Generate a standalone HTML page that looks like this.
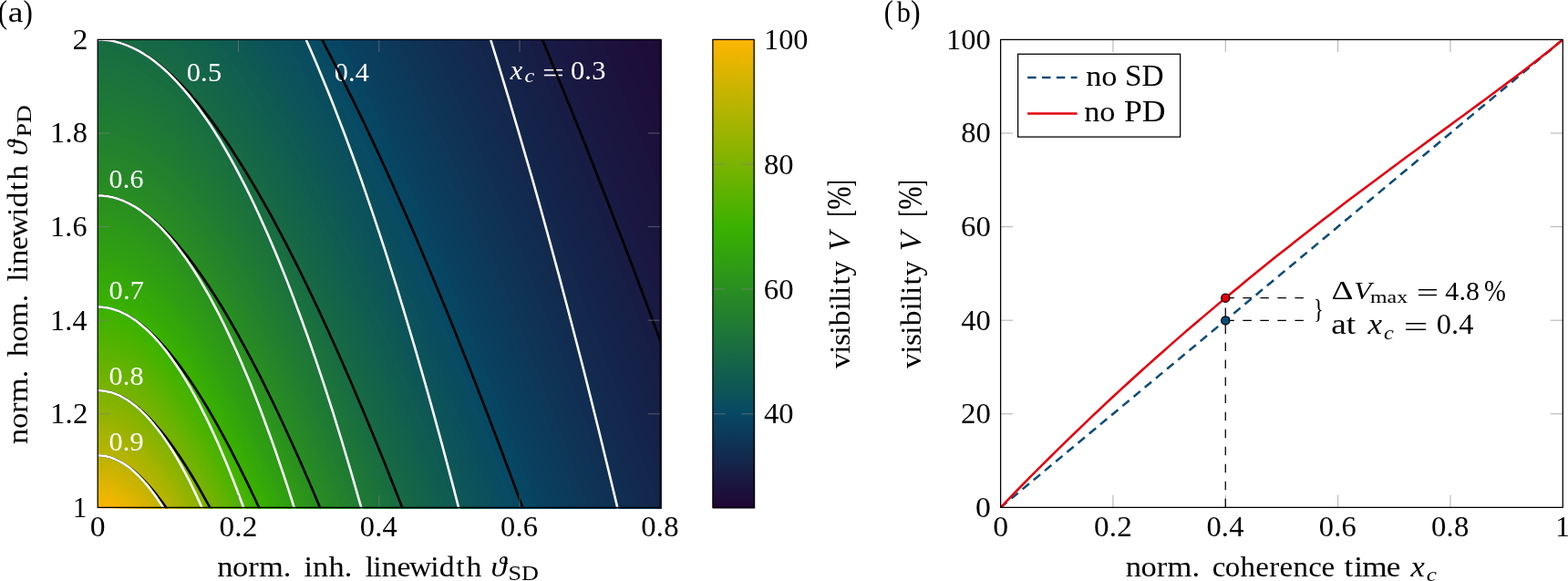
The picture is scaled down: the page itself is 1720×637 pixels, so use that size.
<!DOCTYPE html>
<html lang="en"><head><meta charset="utf-8"><title>Visibility vs. linewidth</title>
<style>html,body{margin:0;padding:0;background:#fff;overflow:hidden}svg{display:block}text{font-family:'Liberation Serif', 'DejaVu Serif', serif}</style></head><body>
<svg width="1720" height="637" viewBox="0 0 1720 637">
<rect width="1720" height="637" fill="#fff"/>
<defs><clipPath id="ca"><rect x="107.20" y="43.40" width="618.00" height="513.95"/></clipPath>
<linearGradient id="cb" gradientUnits="userSpaceOnUse" x1="0" y1="43.40" x2="0" y2="556.40"><stop offset="0.0000" stop-color="#fdb500"/><stop offset="0.4000" stop-color="#3ab200"/><stop offset="0.8000" stop-color="#074864"/><stop offset="1.0000" stop-color="#210534"/></linearGradient></defs>
<g clip-path="url(#ca)" shape-rendering="geometricPrecision">
<rect x="106.2" y="42.4" width="620.1" height="516.0" fill="#fdb500"/>
<path d="M727.3,562.4L132.5,561.5L126.1,558.1L119.7,555.7L113.3,554.3L107.2,553.8V40.4H727.3Z" fill="#f8b500"/>
<path d="M727.3,562.4L136.6,561.5L132.8,559.1L129.1,557L125.4,555.2L121.7,553.8L118,552.6L114.3,551.8L110.6,551.4L107.2,551.2V40.4H727.3Z" fill="#f5b500"/>
<path d="M727.3,562.4L140.3,561.5L136.1,558.5L131.8,555.8L127.6,553.6L123.5,551.8L119.3,550.4L115.2,549.4L111,548.8L107.2,548.6V40.4H727.3Z" fill="#f2b500"/>
<path d="M727.3,562.4L143.7,561.5L139,557.8L134.3,554.7L129.7,552L125.1,549.8L120.5,548.1L116,546.9L111.4,546.1L107.2,545.9V40.4H727.3Z" fill="#eeb500"/>
<path d="M727.3,562.4L146.9,561.5L141.8,557.2L136.7,553.5L131.7,550.3L126.7,547.7L121.7,545.7L116.7,544.3L111.8,543.5L107.2,543.2V40.4H727.3Z" fill="#ebb500"/>
<path d="M727.3,562.4L150,561.5L144.4,556.6L138.9,552.3L133.5,548.7L128.1,545.7L122.8,543.4L117.4,541.8L112.1,540.8L107.2,540.5V40.4H727.3Z" fill="#e8b500"/>
<path d="M727.3,562.4L152.9,561.5L146.9,555.9L141.1,551.1L135.3,547L129.5,543.6L123.8,541L118.1,539.2L112.5,538.1L107.2,537.8V40.4H727.3Z" fill="#e5b500"/>
<path d="M727.3,562.4L155.7,561.5L149.4,555.3L143.1,549.9L137,545.3L130.9,541.5L124.8,538.6L118.8,536.6L112.8,535.4L107.2,535V40.4H727.3Z" fill="#e1b500"/>
<path d="M727.3,562.4L158.4,561.5L151.7,554.6L145.1,548.6L138.6,543.6L132.1,539.4L125.8,536.2L119.4,534L113.1,532.6L107.2,532.2V40.4H727.3Z" fill="#deb500"/>
<path d="M727.3,562.4L161.1,561.5L154,553.9L147.1,547.4L140.2,541.8L133.4,537.3L126.7,533.8L120,531.3L116.5,530.4L113.4,529.8L107.2,529.4V40.4H727.3Z" fill="#dbb400"/>
<path d="M727.3,562.4L163.7,561.5L156.3,553.3L149,546.1L141.8,540.1L134.6,535.1L127.6,531.3L123.9,529.7L120.6,528.6L116.9,527.6L113.7,527L110.4,526.7L107.2,526.5V40.4H727.3Z" fill="#d8b400"/>
<path d="M727.3,562.4L166.2,561.5L158.5,552.6L150.8,544.8L143.3,538.3L135.8,533L131.9,530.6L128.5,528.8L124.6,527.1L121.2,525.9L117.3,524.8L113.9,524.2L110.6,523.8L107.2,523.7V40.4H727.3Z" fill="#d4b400"/>
<path d="M727.3,562.4L168.8,561.5L160.6,551.9L152.6,543.6L144.8,536.5L140.6,533.3L137,530.8L132.9,528.2L129.4,526.3L125.3,524.5L121.8,523.2L117.7,522L114.2,521.3L110.7,520.9L107.2,520.7V40.4H727.3Z" fill="#d1b400"/>
<path d="M727.3,562.4L171.2,561.5L162.8,551.2L154.4,542.3L146.2,534.7L141.9,531.2L138.2,528.5L133.9,525.8L130.2,523.8L126,521.8L122.3,520.4L118.1,519.1L114.5,518.4L110.8,517.9L107.2,517.8V40.4H727.3Z" fill="#ceb400"/>
<path d="M727.3,562.4L173.7,561.5L164.9,550.5L156.2,540.9L151.7,536.5L147.7,532.9L143.2,529.2L139.3,526.3L134.9,523.4L131.1,521.2L126.7,519.1L122.9,517.6L118.5,516.3L114.8,515.5L111,515L107.2,514.8V40.4H727.3Z" fill="#cbb400"/>
<path d="M727.3,562.4L176.1,561.5L166.9,549.8L158,539.6L153.2,534.8L149.1,531L144.5,527.1L140.4,524L135.9,520.9L131.9,518.6L127.4,516.3L123.4,514.7L118.9,513.3L115,512.5L111.1,512L107.2,511.8V40.4H727.3Z" fill="#c7b400"/>
<path d="M727.3,562.4L178.5,561.5L169,549.1L159.7,538.3L154.8,533.2L150.6,529.2L145.7,525L141.6,521.7L136.8,518.4L132.7,516L128,513.6L124,511.9L119.3,510.4L115.3,509.5L111.2,508.9L107.2,508.7V40.4H727.3Z" fill="#c4b400"/>
<path d="M727.3,562.4L180.9,561.5L171.1,548.3L165.9,542L161.4,536.9L156.3,531.5L152,527.3L147,522.8L142.7,519.4L137.8,515.9L133.5,513.3L128.7,510.8L124.5,509L119.7,507.4L115.5,506.4L111.4,505.9L107.2,505.7V40.4H727.3Z" fill="#c1b400"/>
<path d="M727.3,562.4L183.3,561.5L173.1,547.6L167.7,540.9L163.1,535.5L157.9,529.9L153.4,525.4L148.2,520.7L143.8,517L138.7,513.4L134.3,510.6L129.3,507.9L125,506.1L120.1,504.4L115.8,503.4L111.5,502.8L107.2,502.5V40.4H727.3Z" fill="#beb400"/>
<path d="M727.3,562.4L185.6,561.5L175.1,546.9L169.6,539.8L164.8,534.2L159.4,528.2L154.7,523.4L149.4,518.5L144.9,514.7L139.6,510.8L135.1,507.9L130,505.1L125.5,503.1L120.5,501.3L116,500.3L111.6,499.6L107.2,499.4V40.4H727.3Z" fill="#bab400"/>
<path d="M727.3,562.4L188,561.5L182.1,553L177.1,546.1L171.4,538.7L166.5,532.7L160.9,526.5L156.1,521.5L150.7,516.3L145.9,512.3L140.6,508.2L135.9,505.1L130.6,502.2L126.1,500.1L120.8,498.2L116.3,497.1L111.7,496.4L107.2,496.2V40.4H727.3Z" fill="#b7b400"/>
<path d="M727.3,562.4L190.3,561.5L184.3,552.6L179.1,545.3L173.3,537.6L168.2,531.3L162.5,524.7L157.5,519.5L151.9,514.1L147,509.8L141.5,505.6L136.7,502.4L131.3,499.3L126.6,497.1L121.2,495.1L116.5,493.9L111.9,493.2L107.2,493V40.4H727.3Z" fill="#b4b400"/>
<path d="M727.3,562.4L192.6,561.5L186.5,552.2L181.1,544.6L175.1,536.5L169.9,529.9L164,523L158.9,517.5L153.1,511.8L148.1,507.4L142.4,502.9L137.5,499.6L131.9,496.3L127.1,494L121.6,492L116.8,490.7L112,490L107.2,489.7V40.4H727.3Z" fill="#b1b400"/>
<path d="M727.3,562.4L195,561.5L188.6,551.8L183.1,543.8L176.9,535.3L171.5,528.4L165.5,521.2L160.2,515.5L154.3,509.5L149.1,504.9L143.3,500.2L138.3,496.7L132.6,493.3L127.6,490.9L121.9,488.8L117,487.5L112.1,486.7L107.2,486.4V40.4H727.3Z" fill="#adb400"/>
<path d="M727.3,562.4L197.3,561.5L190.8,551.3L185.1,543L178.7,534.1L173.2,527L167,519.4L161.6,513.4L155.5,507.2L150.2,502.4L144.2,497.5L139.1,493.8L133.2,490.3L128.1,487.8L122.3,485.6L117.3,484.2L112.2,483.4L107.2,483.1V40.4H727.3Z" fill="#aab400"/>
<path d="M727.3,562.4L199.6,561.5L192.9,550.9L187.1,542.2L180.5,533L174.9,525.5L168.5,517.6L162.9,511.4L156.7,504.9L151.3,499.8L145.2,494.8L139.9,490.9L133.8,487.2L128.6,484.6L122.7,482.3L117.5,480.9L112.3,480L107.2,479.7V40.4H727.3Z" fill="#a7b400"/>
<path d="M727.3,562.4L202,561.5L195.1,550.5L189.1,541.4L182.4,531.8L176.5,524L170,515.8L164.3,509.3L157.9,502.5L152.3,497.3L146.1,492L140.6,488L134.5,484.1L129.1,481.4L123,479L117.7,477.5L112.5,476.6L107.2,476.3V40.4H727.3Z" fill="#a4b400"/>
<path d="M727.3,562.4L204.3,561.5L197.2,550L191.1,540.6L184.2,530.6L178.2,522.5L171.5,514L165.7,507.2L159.1,500.2L153.4,494.7L147,489.2L141.4,485L135.1,481L129.6,478.2L123.4,475.6L118,474.1L112.6,473.2L107.2,472.9V40.4H727.3Z" fill="#a0b400"/>
<path d="M727.3,562.4L206.6,561.5L199.4,549.6L193.1,539.8L186,529.4L179.9,520.9L173,512.1L167,505L160.3,497.7L154.5,492L147.9,486.3L142.2,482L135.7,477.8L130.1,474.9L123.8,472.3L118.2,470.7L112.7,469.7L107.2,469.4V40.4H727.3Z" fill="#9db400"/>
<path d="M727.3,562.4L209,561.5L201.5,549.1L195.1,538.9L187.8,528.1L181.5,519.4L174.5,510.2L168.4,502.9L161.5,495.3L155.5,489.4L148.8,483.4L143,478.9L136.4,474.6L130.6,471.6L124.1,468.8L118.5,467.2L112.8,466.2L107.2,465.9V40.4H727.3Z" fill="#9ab300"/>
<path d="M727.3,562.4L211.3,561.5L203.7,548.6L197.1,538.1L189.6,526.9L183.2,517.8L176,508.3L169.7,500.7L162.7,492.8L156.6,486.7L149.7,480.5L143.7,475.9L137,471.4L131.1,468.2L124.5,465.4L118.7,463.7L113,462.6L107.2,462.3V40.4H727.3Z" fill="#97b300"/>
<path d="M727.3,562.4L213.7,561.5L205.8,548.2L199.1,537.2L191.5,525.6L184.9,516.2L177.5,506.3L171.1,498.5L163.9,490.3L157.7,484L150.6,477.6L144.5,472.7L137.6,468.1L131.7,464.8L124.9,461.9L119,460.1L113.1,459L107.2,458.7V40.4H727.3Z" fill="#93b300"/>
<path d="M727.3,562.4L216,561.5L208,547.7L201.1,536.4L193.3,524.3L186.6,514.6L179,504.4L172.5,496.2L165.1,487.8L158.7,481.2L151.5,474.6L145.3,469.6L138.3,464.8L132.2,461.4L125.2,458.3L119.2,456.5L113.2,455.4L107.2,455V40.4H727.3Z" fill="#90b300"/>
<path d="M727.3,562.4L218.4,561.5L210.2,547.2L203.1,535.5L195.2,523L188.3,513L180.5,502.4L173.8,493.9L166.3,485.2L159.8,478.4L152.5,471.6L146.1,466.4L138.9,461.4L132.7,457.9L125.6,454.8L119.5,452.9L113.3,451.7L107.2,451.3V40.4H727.3Z" fill="#8db300"/>
<path d="M727.3,562.4L220.8,561.5L212.4,546.7L205.2,534.6L197,521.7L190,511.3L182.1,500.4L175.2,491.6L167.5,482.6L160.9,475.6L153.4,468.5L146.9,463.2L139.5,458L133.2,454.3L126,451.1L119.7,449.2L113.4,448L107.2,447.6V40.4H727.3Z" fill="#8ab300"/>
<path d="M727.3,562.4L223.2,561.5L214.6,546.2L207.2,533.7L198.9,520.4L191.7,509.6L183.6,498.3L176.6,489.3L168.7,480L162,472.7L154.3,465.4L147.7,459.9L140.2,454.6L133.7,450.8L126.3,447.5L119.9,445.4L113.6,444.2L107.2,443.8V40.4H727.3Z" fill="#86b300"/>
<path d="M727.3,562.4L225.6,561.5L216.8,545.7L209.3,532.8L200.7,519.1L193.4,508L185.1,496.3L178,487L170,477.4L163,469.8L155.2,462.3L148.5,456.6L140.8,451.1L134.2,447.2L130.5,445.3L126.7,443.7L120.2,441.6L113.7,440.4L107.2,440V40.4H727.3Z" fill="#83b300"/>
<path d="M727.3,562.4L228,561.5L219.1,545.2L211.3,531.9L202.6,517.7L195.1,506.2L186.7,494.2L179.4,484.6L171.2,474.7L164.1,466.9L156.2,459.1L149.3,453.2L141.5,447.5L134.7,443.5L130.9,441.6L127.1,440L120.4,437.8L113.8,436.5L107.2,436.1V40.4H727.3Z" fill="#80b300"/>
<path d="M727.3,562.4L230.5,561.5L221.3,544.7L213.4,531L204.5,516.3L196.8,504.5L188.2,492.1L180.8,482.2L172.4,471.9L165.2,463.9L157.1,455.9L150.1,449.8L142.1,444L135.2,439.8L131.3,437.8L127.5,436.2L120.7,433.9L113.9,432.6L107.2,432.1V40.4H727.3Z" fill="#7db300"/>
<path d="M727.3,562.4L232.9,561.5L223.5,544.2L215.5,530L206.4,515L198.6,502.8L189.8,489.9L182.2,479.7L173.7,469.2L166.3,460.9L158,452.6L150.9,446.4L142.8,440.4L135.8,436.1L131.8,434L127.8,432.3L120.9,430L114.1,428.6L107.2,428.1V40.4H727.3Z" fill="#79b300"/>
<path d="M727.3,562.4L235.4,561.5L225.8,543.7L217.6,529.1L208.3,513.5L200.3,501L191.4,487.8L183.6,477.3L174.9,466.4L167.4,457.9L159,449.4L151.7,442.9L143.4,436.7L136.3,432.3L132.2,430.2L128.2,428.4L121.2,426L114.2,424.6L107.2,424.1V40.4H727.3Z" fill="#76b300"/>
<path d="M727.3,562.4L237.9,561.5L228.1,543.1L219.7,528.1L210.2,512.1L202.1,499.2L192.9,485.6L185.1,474.7L176.2,463.6L168.5,454.8L159.9,446L152.5,439.4L144.1,433L136.8,428.4L132.7,426.3L128.6,424.4L121.4,422L114.3,420.5L107.2,420V40.4H727.3Z" fill="#73b300"/>
<path d="M727.3,562.4L240.4,561.5L230.4,542.6L221.8,527.1L212.2,510.7L203.9,497.4L194.5,483.4L186.5,472.2L177.5,460.7L169.7,451.7L160.9,442.6L153.3,435.8L149,432.4L144.8,429.2L137.4,424.5L133.2,422.3L129,420.4L121.7,417.9L117.5,416.9L114.4,416.4L110.3,416L107.2,415.9V40.4H727.3Z" fill="#70b300"/>
<path d="M727.3,562.4L242.9,561.5L232.7,542.1L224,526.1L214.1,509.2L205.6,495.5L196.1,481.1L187.9,469.6L178.7,457.8L170.8,448.5L161.8,439.2L154.1,432.2L149.8,428.6L145.4,425.4L137.9,420.6L133.6,418.3L129.4,416.4L121.9,413.8L117.7,412.8L114.6,412.2L110.4,411.8L107.2,411.7V40.4H727.3Z" fill="#6cb300"/>
<path d="M727.3,562.4L245.4,561.5L235.1,541.5L226.1,525.1L216.1,507.7L207.4,493.6L197.7,478.8L189.4,467L180,454.9L171.9,445.3L162.8,435.8L155,428.5L150.5,424.9L146.1,421.6L138.4,416.6L134.1,414.3L129.7,412.3L125.4,410.6L122.2,409.6L117.9,408.6L114.7,408L110.4,407.6L107.2,407.5V40.4H727.3Z" fill="#69b300"/>
<path d="M727.3,562.4L248,561.5L237.4,541L228.3,524.1L218.1,506.2L209.3,491.7L199.4,476.5L190.9,464.4L181.3,451.9L173.1,442.1L163.8,432.3L155.8,424.8L151.3,421.1L146.8,417.7L139,412.6L134.5,410.2L130.1,408.1L125.7,406.4L122.5,405.4L118.1,404.3L114.8,403.7L110.5,403.3L107.2,403.2V40.4H727.3Z" fill="#66b300"/>
<path d="M727.3,562.4L250.6,561.5L239.8,540.4L230.5,523.1L220.1,504.7L211.1,489.8L201,474.2L192.3,461.7L182.6,448.9L174.2,438.8L164.8,428.7L156.6,421.1L152,417.2L147.4,413.7L139.5,408.5L135,406L130.5,403.9L126.1,402.1L122.7,401.1L118.3,400L114.9,399.4L110.5,398.9L107.2,398.8V40.4H727.3Z" fill="#63b300"/>
<path d="M727.3,562.4L253.2,561.5L242.2,539.8L232.7,522.1L222.1,503.2L212.9,487.9L202.7,471.8L193.8,459L183.9,445.8L175.4,435.5L165.8,425.1L157.5,417.2L152.8,413.3L148.1,409.7L140,404.3L135.5,401.8L130.9,399.6L126.4,397.8L123,396.7L118.5,395.6L115.1,395L110.6,394.5L107.2,394.4V40.4H727.3Z" fill="#5fb300"/>
<path d="M727.3,562.4L255.8,561.5L244.6,539.2L234.9,521L224.1,501.6L214.8,485.9L204.3,469.4L195.3,456.3L185.2,442.7L176.5,432.1L166.8,421.4L158.3,413.4L153.6,409.3L148.8,405.6L140.6,400.1L135.9,397.5L131.3,395.3L126.7,393.4L123.2,392.3L118.6,391.1L115.2,390.5L110.6,390L107.2,389.9V40.4H727.3Z" fill="#5cb300"/>
<path d="M727.3,562.4L258.5,561.5L247,538.6L237.2,519.9L226.1,500L216.7,483.9L206,467L196.8,453.5L186.6,439.6L177.7,428.7L167.8,417.8L159.2,409.5L154.3,405.3L149.5,401.5L141.2,395.9L136.4,393.2L131.7,390.9L127,389L123.5,387.8L118.8,386.6L115.3,386L110.7,385.5L107.2,385.4V40.4H727.3Z" fill="#59b200"/>
<path d="M727.3,562.4L261.1,561.5L249.5,538L239.4,518.8L228.2,498.4L218.5,481.9L207.7,464.5L198.4,450.7L187.9,436.4L178.9,425.2L173.8,419.4L168.8,414L160,405.5L155.1,401.2L150.2,397.3L145.3,393.9L141.7,391.5L136.9,388.8L132.1,386.4L127.3,384.5L123.8,383.3L119,382.1L115.5,381.4L110.7,380.9L107.2,380.8V40.4H727.3Z" fill="#56b200"/>
<path d="M727.3,562.4L263.8,561.5L251.9,537.4L241.7,517.7L230.3,496.8L220.4,479.8L209.4,462L199.9,447.8L189.3,433.2L180.1,421.7L174.9,415.8L169.8,410.2L160.9,401.5L155.9,397.1L150.9,393.1L146,389.6L142.3,387.2L137.4,384.3L132.5,381.9L127.7,379.9L124,378.7L119.2,377.5L115.6,376.8L110.8,376.3L107.2,376.2V40.4H727.3Z" fill="#52b200"/>
<path d="M727.3,562.4L266.5,561.5L254.4,536.8L244,516.6L232.4,495.2L222.4,477.8L211.1,459.5L201.5,444.9L190.6,429.9L181.3,418.2L176,412L170.8,406.4L161.8,397.4L156.7,392.9L151.6,388.8L146.6,385.2L142.8,382.7L137.9,379.8L132.9,377.4L128,375.3L124.3,374.1L119.4,372.8L115.7,372.1L110.9,371.6L107.2,371.4V40.4H727.3Z" fill="#4fb200"/>
<path d="M727.3,562.4L269.3,561.5L257,536.2L246.4,515.5L234.5,493.5L224.3,475.7L212.9,456.9L203,442L192,426.6L182.5,414.6L177.2,408.3L171.9,402.5L162.7,393.3L157.5,388.7L152.3,384.5L147.2,380.8L143.4,378.2L138.4,375.3L133.3,372.7L128.3,370.6L124.6,369.4L119.6,368L115.9,367.3L110.9,366.8L107.2,366.7V40.4H727.3Z" fill="#4cb200"/>
<path d="M727.3,562.4L272.1,561.5L259.5,535.6L248.7,514.4L236.6,491.8L226.3,473.5L214.6,454.3L204.6,439L193.4,423.2L183.7,410.9L178.3,404.5L172.9,398.5L163.6,389.1L158.3,384.4L153.1,380.1L147.9,376.3L144,373.7L138.9,370.6L133.7,368L128.7,365.9L124.9,364.6L119.8,363.2L116,362.5L111,361.9L107.2,361.8V40.4H727.3Z" fill="#49b200"/>
<path d="M727.3,562.4L274.9,561.5L262.1,534.9L251.1,513.2L238.8,490.1L228.2,471.4L216.4,451.7L206.2,436L194.8,419.8L185,407.2L179.5,400.6L174,394.5L164.5,384.9L159.1,380L153.8,375.6L148.5,371.7L144.6,369.1L139.4,365.9L134.2,363.3L129,361.1L125.1,359.7L120,358.3L116.2,357.6L111,357L107.2,356.9V40.4H727.3Z" fill="#45b200"/>
<path d="M727.3,562.4L277.7,561.5L264.7,534.3L253.5,512L241,488.3L230.2,469.2L218.2,449L207.8,433L196.2,416.4L186.2,403.4L180.6,396.7L175,390.4L165.4,380.6L159.9,375.6L154.5,371.1L149.2,367.1L145.2,364.4L139.9,361.2L134.6,358.4L129.3,356.2L125.4,354.8L120.2,353.4L116.3,352.6L111.1,352.1L107.2,351.9V40.4H727.3Z" fill="#42b200"/>
<path d="M727.3,562.4L280.6,561.5L267.3,533.6L256,510.8L243.2,486.6L232.3,466.9L220,446.3L209.5,429.9L197.7,412.9L187.5,399.6L181.8,392.7L176.1,386.3L166.3,376.2L160.8,371.1L155.3,366.5L149.8,362.4L145.8,359.6L140.4,356.3L135,353.5L129.7,351.2L125.7,349.8L120.4,348.4L116.4,347.6L111.2,347L107.2,346.9V40.4H727.3Z" fill="#3fb200"/>
<path d="M727.3,562.4L283.5,561.5L270,533L258.4,509.6L245.4,484.8L234.3,464.7L221.8,443.6L211.1,426.7L199.1,409.3L188.8,395.8L183,388.7L177.2,382.1L167.2,371.8L161.6,366.6L156,361.9L150.5,357.6L146.4,354.8L140.9,351.4L135.5,348.6L130,346.2L126,344.8L120.6,343.3L116.6,342.5L111.2,341.9L107.2,341.7V40.4H727.3Z" fill="#3cb200"/>
<path d="M727.3,562.4L286.4,561.5L272.7,532.3L260.9,508.4L247.7,483L236.4,462.4L223.7,440.8L212.8,423.5L200.6,405.8L190.1,391.8L184.2,384.6L178.3,377.9L168.2,367.3L162.5,362L156.8,357.1L151.2,352.8L147,349.9L141.4,346.5L135.9,343.5L130.4,341.1L126.3,339.7L120.8,338.1L116.7,337.3L111.3,336.7L107.2,336.5V40.4H727.3Z" fill="#3ab101"/>
<path d="M727.3,562.4L289.4,561.5L275.4,531.6L263.4,507.1L250,481.1L238.4,460.1L225.5,438L214.5,420.3L208.2,410.9L202,402.1L191.4,387.9L185.4,380.5L179.4,373.6L173.5,367.2L169.1,362.8L163.3,357.3L157.6,352.3L151.9,347.9L147.6,344.9L141.9,341.4L136.3,338.4L130.7,336L126.6,334.5L121,332.9L116.9,332.1L111.3,331.4L107.2,331.3V40.4H727.3Z" fill="#39af02"/>
<path d="M727.3,562.4L292.3,561.5L278.1,530.9L265.9,505.9L252.3,479.3L240.6,457.7L227.4,435.1L216.2,417L209.8,407.4L203.5,398.4L192.7,383.8L186.6,376.3L180.5,369.2L174.6,362.7L170.1,358.1L164.2,352.5L158.3,347.5L152.5,343L148.2,339.9L142.5,336.3L136.8,333.3L131.1,330.7L126.9,329.2L121.2,327.6L117,326.7L111.4,326.1L107.2,325.9V40.4H727.3Z" fill="#38ae04"/>
<path d="M727.3,562.4L295.4,561.5L280.9,530.2L268.5,504.6L254.6,477.4L242.7,455.3L229.3,432.2L217.9,413.7L211.4,403.9L205.1,394.6L194,379.7L187.8,372L181.7,364.8L175.6,358.1L171.1,353.4L165.1,347.7L159.1,342.6L153.2,337.9L148.8,334.8L143,331.1L137.2,328L131.5,325.4L127.2,323.8L121.4,322.2L117.2,321.3L111.5,320.6L107.2,320.5V40.4H727.3Z" fill="#37ac06"/>
<path d="M727.3,562.4L298.4,561.5L283.7,529.5L271.1,503.3L257,475.4L244.8,452.9L231.3,429.2L219.6,410.3L213.1,400.3L206.6,390.8L195.4,375.6L189.1,367.7L182.8,360.3L176.6,353.4L172,348.7L166,342.8L159.9,337.6L153.9,332.8L149.5,329.6L143.6,325.9L137.7,322.7L131.8,320L127.5,318.4L121.7,316.7L117.3,315.8L111.5,315.1L107.2,315V40.4H727.3Z" fill="#36aa08"/>
<path d="M727.3,562.4L301.5,561.5L286.6,528.8L273.7,502L259.3,473.5L247,450.4L233.2,426.2L221.4,406.9L214.7,396.6L208.1,387L196.8,371.4L190.3,363.3L184,355.7L177.7,348.7L173,343.9L166.9,337.9L160.7,332.5L154.6,327.6L150.1,324.4L144.1,320.5L138.1,317.3L132.2,314.5L127.8,312.9L121.9,311.2L117.5,310.3L111.6,309.6L107.2,309.4V40.4H727.3Z" fill="#35a809"/>
<path d="M727.3,562.4L304.7,561.5L289.4,528L276.4,500.6L261.8,471.5L249.2,447.9L235.2,423.2L223.2,403.4L216.4,392.9L209.7,383L198.1,367.1L191.6,358.8L185.2,351.1L178.8,343.9L174,339L167.8,332.9L161.5,327.3L155.4,322.4L150.8,319L144.7,315.1L138.6,311.8L132.6,309L128.1,307.3L122.1,305.5L117.6,304.6L111.7,303.9L107.2,303.7V40.4H727.3Z" fill="#34a70b"/>
<path d="M727.3,562.4L307.8,561.5L292.4,527.3L279.1,499.3L264.2,469.5L251.5,445.4L237.2,420.1L225,399.9L218.1,389.2L211.3,379L199.5,362.8L192.9,354.3L186.4,346.4L179.9,339.1L175.1,334L168.7,327.7L162.4,322.1L156.1,317L151.4,313.6L145.2,309.6L139.1,306.2L133,303.4L128.4,301.6L122.3,299.8L117.8,298.9L111.7,298.1L107.2,298V40.4H727.3Z" fill="#34a50c"/>
<path d="M727.3,562.4L311.1,561.5L295.3,526.5L281.8,497.9L266.7,467.5L253.7,442.8L239.2,416.9L226.8,396.3L219.8,385.3L212.9,375L200.9,358.4L194.2,349.7L187.6,341.6L181,334.2L176.1,329L169.6,322.6L163.2,316.8L156.8,311.6L152.1,308.1L145.8,304L139.5,300.5L133.3,297.6L128.7,295.9L122.5,294L117.9,293.1L111.8,292.3L107.2,292.1V40.4H727.3Z" fill="#33a30e"/>
<path d="M727.3,562.4L314.3,561.5L298.3,525.8L284.6,496.5L269.2,465.4L256,440.2L241.3,413.8L228.6,392.7L221.5,381.5L214.5,370.9L202.4,353.9L195.5,345L188.8,336.8L182.1,329.1L177.1,323.8L170.5,317.3L164,311.4L157.6,306.1L152.7,302.5L146.4,298.3L140,294.8L133.7,291.8L129,290L122.8,288.1L118.1,287.1L111.9,286.4L107.2,286.2V40.4H727.3Z" fill="#32a110"/>
<path d="M727.3,562.4L317.6,561.5L301.3,525L287.4,495.1L271.7,463.3L258.3,437.5L243.3,410.5L230.5,389L223.3,377.5L216.1,366.7L203.8,349.3L196.9,340.3L190,331.8L183.2,324.1L178.2,318.6L171.5,312L164.9,305.9L158.3,300.5L153.4,296.9L146.9,292.6L140.5,288.9L134.1,285.9L129.3,284.1L123,282.2L118.3,281.1L111.9,280.3L107.2,280.2V40.4H727.3Z" fill="#319f12"/>
<path d="M727.3,562.4L321,561.5L304.4,524.2L290.2,493.6L274.3,461.1L260.7,434.9L245.4,407.2L232.4,385.2L225.1,373.5L217.8,362.5L205.3,344.7L198.2,335.5L191.3,326.9L184.4,318.9L179.2,313.4L172.5,306.5L165.7,300.4L159.1,294.8L154.1,291.1L147.5,286.7L141,283L134.5,279.9L129.7,278L123.2,276.1L118.4,275L112,274.2L107.2,274.1V40.4H727.3Z" fill="#309e13"/>
<path d="M727.3,562.4L324.3,561.5L307.5,523.4L293.1,492.2L276.9,459L263.1,432.1L255.3,417.7L247.6,403.9L234.3,381.4L226.9,369.5L219.5,358.2L206.8,340L199.6,330.6L192.5,321.8L185.5,313.7L180.3,308L173.4,301L166.6,294.7L159.8,289.1L154.8,285.3L148.1,280.8L141.5,277L134.9,273.8L130,271.9L123.5,269.9L118.6,268.9L112.1,268L107.2,267.8V40.4H727.3Z" fill="#2f9c15"/>
<path d="M727.3,562.4L327.8,561.5L310.6,522.5L296,490.7L279.5,456.8L265.5,429.3L257.6,414.6L249.7,400.5L236.3,377.5L228.7,365.3L221.2,353.8L213.8,343L208.3,335.3L201,325.6L193.8,316.6L186.7,308.3L181.4,302.5L174.4,295.4L167.5,289L160.6,283.2L155.5,279.3L148.7,274.8L142,270.9L135.3,267.6L130.3,265.7L123.7,263.6L118.7,262.6L112.1,261.7L107.2,261.5V40.4H727.3Z" fill="#2f9a16"/>
<path d="M727.3,562.4L331.3,561.5L313.8,521.7L298.9,489.2L282.2,454.5L267.9,426.5L259.9,411.4L251.9,397.1L238.2,373.6L230.5,361.1L222.9,349.4L215.4,338.3L209.8,330.4L202.4,320.6L195.1,311.4L187.9,302.9L182.5,297L175.4,289.7L168.4,283.2L161.4,277.3L156.2,273.3L149.4,268.6L142.5,264.7L135.7,261.4L130.7,259.4L123.9,257.3L118.9,256.2L112.2,255.3L107.2,255.1V40.4H727.3Z" fill="#2e9818"/>
<path d="M727.3,562.4L334.8,561.5L317.1,520.9L301.9,487.6L284.9,452.3L270.4,423.6L262.2,408.3L254.1,393.6L240.2,369.6L232.4,356.9L224.7,344.9L217,333.5L211.3,325.5L203.8,315.4L196.4,306.1L189.1,297.4L183.6,291.4L176.4,284L169.3,277.2L162.2,271.2L156.9,267.2L150,262.4L143,258.3L136.2,255L131,252.9L124.2,250.8L119.1,249.7L112.3,248.8L107.2,248.6V40.4H727.3Z" fill="#2d971a"/>
<path d="M727.3,562.4L338.4,561.5L320.3,520L304.9,486L287.7,449.9L272.9,420.7L264.6,405L256.4,390L242.2,365.5L234.3,352.6L226.4,340.3L218.7,328.7L212.9,320.5L205.3,310.2L197.8,300.7L190.3,291.8L184.8,285.7L177.5,278.1L170.2,271.2L163,265.1L157.7,261L150.6,256.1L143.6,251.9L136.6,248.5L131.4,246.4L124.4,244.2L119.3,243.1L112.4,242.2L107.2,242V40.4H727.3Z" fill="#2c951c"/>
<path d="M727.3,562.4L342,561.5L323.7,519.1L308,484.5L290.5,447.6L275.4,417.8L267,401.7L258.7,386.4L244.3,361.4L236.2,348.2L228.2,335.6L220.4,323.8L214.5,315.5L206.8,305L199.1,295.2L191.5,286.2L185.9,279.9L178.5,272.1L171.1,265.1L163.8,258.8L158.4,254.6L151.2,249.7L144.1,245.4L137,241.9L131.7,239.8L124.7,237.6L119.4,236.4L112.4,235.5L107.2,235.3V40.4H727.3Z" fill="#2b931d"/>
<path d="M727.3,562.4L345.7,561.5L327,518.2L311.1,482.8L293.3,445.2L278,414.7L269.4,398.4L261,382.8L246.4,357.2L238.2,343.7L230.1,330.9L222.1,318.8L216.1,310.3L208.3,299.6L200.5,289.6L192.8,280.4L187.1,274L179.6,266.1L172.1,258.9L164.7,252.5L159.2,248.2L151.9,243.1L144.6,238.8L137.4,235.2L132.1,233L124.9,230.8L119.6,229.6L112.5,228.6L107.2,228.4V40.4H727.3Z" fill="#2a911f"/>
<path d="M727.3,562.4L349.4,561.5L330.5,517.3L314.3,481.2L296.1,442.8L280.6,411.7L271.9,395L263.3,379L248.5,353L240.2,339.1L231.9,326.1L223.8,313.8L217.7,305.1L209.8,294.1L201.9,283.9L194.1,274.5L188.3,268L180.6,259.9L173,252.6L165.5,246.1L159.9,241.7L152.5,236.5L145.2,232.1L137.9,228.4L132.4,226.2L125.2,223.9L119.8,222.6L112.6,221.7L107.2,221.5V40.4H727.3Z" fill="#299020"/>
<path d="M727.3,562.4L353.2,561.5L333.9,516.4L317.5,479.5L299.1,440.3L283.3,408.6L274.4,391.5L265.7,375.2L250.6,348.6L242.2,334.5L233.8,321.2L225.5,308.6L219.4,299.7L211.3,288.6L203.3,278.2L195.4,268.5L189.5,261.9L181.7,253.6L174,246.2L166.4,239.5L160.7,235L153.2,229.7L145.7,225.2L138.3,221.5L132.8,219.2L125.5,216.9L120,215.6L112.7,214.6L107.2,214.4V40.4H727.3Z" fill="#298e22"/>
<path d="M727.3,562.4L357,561.5L337.5,515.5L320.7,477.8L302,437.8L286,405.4L277,388L268.1,371.4L252.8,344.2L244.2,329.8L235.7,316.2L227.3,303.4L221.1,294.3L212.8,282.9L204.7,272.3L196.7,262.5L190.7,255.7L182.8,247.2L175,239.6L167.3,232.8L161.5,228.3L153.9,222.9L146.3,218.2L138.8,214.4L133.2,212.1L125.7,209.7L120.2,208.4L112.8,207.4L107.2,207.2V40.4H727.3Z" fill="#288c24"/>
<path d="M727.3,562.4L360.9,561.5L341,514.5L324,476.1L314.5,455.3L305,435.3L288.7,402.2L279.6,384.4L270.6,367.5L255,339.7L246.3,325L237.6,311.1L229.1,298.1L222.8,288.8L214.4,277.2L206.2,266.3L198,256.3L191.9,249.3L183.9,240.8L176,233L168.1,226.1L162.3,221.4L154.6,215.9L146.9,211.2L139.3,207.3L133.6,204.9L126,202.5L120.4,201.2L112.8,200.1L107.2,199.9V40.4H727.3Z" fill="#278a26"/>
<path d="M727.3,562.4L364.9,561.5L344.7,513.6L327.4,474.4L317.7,453.1L308,432.7L291.5,398.9L282.2,380.8L273,363.5L257.2,335.2L248.4,320.2L239.6,306L230.9,292.7L224.5,283.2L216,271.3L207.6,260.3L199.3,250L193.2,242.9L185.1,234.2L177,226.3L169,219.2L163.1,214.4L155.2,208.8L147.5,204L139.7,200L133.9,197.6L126.3,195.1L120.5,193.8L112.9,192.7L107.2,192.5V40.4H727.3Z" fill="#268827"/>
<path d="M727.3,562.4L368.9,561.5L348.4,512.6L330.8,472.6L320.9,450.9L311.1,430L294.3,395.6L284.9,377.1L275.6,359.4L259.5,330.6L250.5,315.2L241.6,300.8L232.8,287.1L226.3,277.5L217.6,265.4L209.1,254.1L200.7,243.7L194.5,236.4L186.2,227.5L178,219.4L169.9,212.2L163.9,207.3L156,201.5L148,196.6L140.2,192.6L134.3,190.1L126.6,187.6L120.7,186.2L113,185.2L107.2,184.9V40.4H727.3Z" fill="#258729"/>
<path d="M727.3,562.4L373,561.5L352.1,511.6L334.2,470.8L324.2,448.6L314.3,427.3L297.2,392.2L287.6,373.3L278.1,355.3L261.8,325.8L252.7,310.2L243.6,295.4L234.7,281.5L228,271.7L219.3,259.3L210.7,247.8L202.1,237.2L195.8,229.8L187.4,220.6L179.1,212.4L170.9,205L164.8,200L156.7,194.2L148.6,189.2L140.7,185.1L134.7,182.5L126.8,179.9L120.9,178.6L113.1,177.5L107.2,177.2V40.4H727.3Z" fill="#24852b"/>
<path d="M727.3,562.4L377.1,561.5L355.9,510.6L337.7,468.9L327.5,446.3L317.5,424.6L300.1,388.7L290.4,369.5L280.7,351.1L271.2,333.6L264.2,321L254.9,305.1L245.7,290L236.6,275.8L229.9,265.8L221,253.2L212.2,241.4L203.5,230.6L197.1,223L188.6,213.7L180.1,205.3L171.8,197.8L165.6,192.7L157.4,186.7L149.3,181.6L141.2,177.4L135.1,174.8L127.1,172.2L121.1,170.8L113.2,169.6L107.2,169.4V40.4H727.3Z" fill="#23832c"/>
<path d="M727.3,562.4L381.4,561.5L359.8,509.5L341.3,467L330.9,444L320.7,421.8L303.1,385.2L293.2,365.6L283.4,346.8L273.7,328.9L266.5,316.2L257.1,299.9L247.8,284.5L238.5,270L231.7,259.8L222.7,246.9L213.8,234.9L204.9,223.8L198.4,216.1L189.8,206.6L181.2,198.1L172.8,190.4L166.5,185.2L158.1,179.1L149.9,173.9L141.7,169.6L135.5,167L127.4,164.3L121.3,162.8L113.3,161.7L107.2,161.4V40.4H727.3Z" fill="#23812e"/>
<path d="M727.3,562.4L385.6,561.5L363.7,508.5L344.9,465.1L334.4,441.6L324,419L306.1,381.7L296,361.6L286.1,342.5L276.2,324.2L269,311.2L259.4,294.6L249.9,278.9L240.5,264.1L233.6,253.7L224.4,240.5L215.3,228.3L206.4,217L199.8,209.1L191,199.4L182.3,190.7L173.7,182.8L167.3,177.6L158.9,171.3L150.5,166L142.2,161.7L136,159L127.7,156.2L121.5,154.7L113.3,153.6L107.2,153.3V40.4H727.3Z" fill="#228030"/>
<path d="M727.3,562.4L390,561.5L367.7,507.4L348.6,463.2L337.9,439.2L327.3,416.1L309.1,378L298.9,357.6L288.8,338L278.8,319.4L271.4,306.1L261.7,289.2L252,273.2L242.5,258.1L235.5,247.4L226.2,234L217,221.6L207.9,210L201.1,202L192.2,192.1L183.4,183.2L174.7,175.2L168.2,169.8L159.6,163.5L151.1,158L142.7,153.6L136.4,150.8L128,148L121.8,146.5L113.4,145.3L107.2,145.1V40.4H727.3Z" fill="#217e31"/>
<path d="M727.3,562.4L394.4,561.5L371.8,506.3L352.4,461.2L341.5,436.7L330.7,413.2L312.2,374.3L301.8,353.4L291.6,333.5L281.4,314.6L273.9,301L264,283.7L254.2,267.4L244.6,252L237.4,241.1L227.9,227.4L218.6,214.7L209.4,202.9L202.5,194.8L193.5,184.7L184.5,175.6L175.7,167.4L169.1,161.9L160.4,155.4L151.8,149.9L143.2,145.3L136.8,142.6L128.3,139.7L122,138.1L113.5,136.9L107.2,136.7V40.4H727.3Z" fill="#207c33"/>
<path d="M727.3,562.4L398.9,561.5L387.3,532.9L375.9,505.2L356.2,459.2L345.1,434.2L334.2,410.2L315.4,370.5L304.8,349.2L294.4,328.9L284.1,309.6L276.5,295.7L266.4,278.1L256.4,261.4L246.6,245.8L239.4,234.7L229.8,220.7L220.3,207.7L210.9,195.7L204,187.4L194.8,177.1L185.7,167.8L176.7,159.5L170,153.9L161.2,147.2L152.4,141.6L143.7,137L137.2,134.1L128.6,131.2L122.2,129.6L117.9,128.9L113.6,128.4L107.2,128.1V40.4H727.3Z" fill="#1f7a34"/>
<path d="M727.3,562.4L403.5,561.5L391.7,532.3L380.1,504.1L360.1,457.1L348.8,431.6L337.7,407.1L318.6,366.7L307.8,345L297.2,324.2L286.8,304.5L279,290.4L268.8,272.4L258.7,255.4L248.7,239.4L241.4,228.1L231.6,213.8L222,200.6L212.5,188.4L205.4,179.8L196.1,169.4L186.9,159.9L177.7,151.4L171,145.7L162,138.9L153.1,133.2L144.3,128.4L137.7,125.5L128.9,122.5L122.4,120.9L118.1,120.2L113.7,119.7L107.2,119.4V40.4H727.3Z" fill="#1e7936"/>
<path d="M727.3,562.4L408.2,561.5L396.2,531.7L384.4,502.9L364,455L352.6,429L341.3,404L321.8,362.8L310.9,340.6L300.2,319.5L289.5,299.4L281.7,284.9L271.3,266.6L261,249.3L250.9,232.9L243.4,221.4L233.5,206.9L223.7,193.4L214,180.9L206.9,172.2L197.4,161.5L188,151.8L178.8,143.1L171.9,137.3L162.8,130.4L153.8,124.6L144.8,119.7L138.1,116.8L129.3,113.7L122.6,112.1L118.2,111.3L113.8,110.8L107.2,110.5V40.4H727.3Z" fill="#1e7738"/>
<path d="M727.3,562.4L412.9,561.5L400.7,531.1L388.7,501.8L368,452.9L356.4,426.3L344.9,400.9L325.2,358.8L314.1,336.2L303.1,314.6L292.3,294.1L284.3,279.4L273.8,260.7L263.4,243L253.1,226.4L245.4,214.6L235.4,199.7L225.5,186L215.6,173.2L208.4,164.4L198.8,153.5L189.3,143.6L179.9,134.7L172.9,128.8L163.6,121.8L154.5,115.8L145.4,110.9L138.6,107.8L134.1,106.2L129.6,104.7L122.9,103.1L118.4,102.3L113.9,101.8L107.2,101.5V40.4H727.3Z" fill="#1d753a"/>
<path d="M727.3,562.4L417.7,561.5L405.4,530.5L393.1,500.6L372.1,450.7L360.3,423.6L348.6,397.7L328.5,354.7L317.3,331.7L306.2,309.7L295.2,288.7L287,273.7L276.3,254.6L265.7,236.6L255.3,219.6L247.5,207.6L237.3,192.5L227.2,178.5L217.3,165.5L209.9,156.4L200.1,145.3L190.5,135.2L180.9,126.2L173.8,120.1L164.5,113L155.2,106.9L145.9,101.8L139,98.8L134.5,97L129.9,95.6L123.1,93.9L118.5,93.1L114,92.6L107.2,92.3V40.4H727.3Z" fill="#1c733b"/>
<path d="M727.3,562.4L422.7,561.5L410.1,529.9L397.6,499.3L376.2,448.5L364.2,420.9L352.4,394.4L340.7,369L332,350.6L320.5,327.1L309.2,304.6L298.1,283.3L289.8,268L278.9,248.5L268.2,230.1L257.6,212.8L249.7,200.5L239.3,185.1L229.1,170.8L218.9,157.5L211.4,148.3L201.5,136.9L191.7,126.7L182,117.5L174.8,111.3L165.3,104L155.9,97.8L146.5,92.6L139.5,89.5L134.9,87.7L130.3,86.2L123.3,84.5L118.7,83.7L114.1,83.2L107.2,82.9V40.4H727.3Z" fill="#1b723d"/>
<path d="M727.3,562.4L427.7,561.5L414.9,529.3L402.2,498.1L380.5,446.2L368.3,418.1L356.2,391L344.3,365.1L335.5,346.4L323.8,322.4L312.4,299.5L301,277.7L292.6,262.1L281.6,242.2L270.6,223.5L259.9,205.8L251.9,193.3L241.3,177.6L230.9,163L220.6,149.4L213,140L202.9,128.4L193,118L183.2,108.6L175.9,102.3L166.2,94.8L156.6,88.5L147.1,83.2L140,80L135.3,78.2L130.6,76.7L123.6,75L118.9,74.1L114.2,73.6L107.2,73.3V40.4H727.3Z" fill="#1a703e"/>
<path d="M727.3,562.4L432.7,561.5L419.7,528.6L406.9,496.8L384.8,443.9L372.4,415.2L360.1,387.6L348,361.2L339,342.1L327.2,317.6L315.5,294.3L304,272L295.5,256.1L284.2,235.8L273.1,216.7L262.2,198.7L254.1,185.9L243.4,169.9L232.8,155L222.4,141.2L214.6,131.6L204.4,119.8L194.3,109.1L184.3,99.5L176.9,93.1L167.1,85.5L157.3,79L147.7,73.7L140.5,70.4L135.7,68.6L130.9,67L123.8,65.2L119.1,64.4L114.3,63.8L107.2,63.5V40.4H727.3Z" fill="#196e40"/>
<path d="M727.3,562.4L437.9,561.5L424.7,528L411.6,495.5L389.2,441.5L376.5,412.3L364.1,384.1L351.8,357.2L342.7,337.7L330.7,312.7L318.8,288.9L307.1,266.2L298.4,250L287,229.3L275.7,209.8L264.6,191.4L256.3,178.4L245.4,162.1L234.7,146.9L224.1,132.8L216.2,123L205.9,111L195.6,100L185.5,90.3L177.9,83.7L168,76L158.1,69.4L153.2,66.5L148.3,63.9L141,60.6L136.1,58.7L131.3,57.1L124.1,55.3L119.2,54.5L114.4,53.9L107.2,53.6V40.4H727.3Z" fill="#186c42"/>
<path d="M727.3,562.4L443.2,561.5L429.8,527.3L416.5,494.2L403.4,462.3L390.4,431.6L377.6,402L365,373.6L352.5,346.4L343.3,326.7L331.1,301.6L319.1,277.6L307.3,254.7L298.5,238.4L286.9,217.6L275.5,198L264.2,179.5L255.8,166.5L244.8,150.1L234,134.9L223.2,120.8L215.3,111.1L204.8,99.1L197,90.8L186.7,80.9L179,74.2L168.9,66.3L158.9,59.5L153.9,56.6L148.9,54L141.5,50.6L136.6,48.7L131.7,47.1L124.3,45.2L119.4,44.3L114.5,43.7L107.2,43.4V40.4H727.3Z" fill="#186a44"/>
<path d="M727.3,562.4L448.6,561.5L426.1,504.4L402.6,447.2L380,394.4L368.3,368.1L358.2,346.1L348,324.1L337.4,302.1L326.6,280.1L315.4,258.1L306.1,240.5L296.5,223L286.6,205.4L276.3,187.8L265.6,170.2L257.1,157L248.3,143.8L239,130.6L229.2,117.4L222.3,108.6L211.3,95.4L203.3,86.6L194.8,77.8L185.4,69.1L175,60.3L169.1,55.9L162.7,51.5L155.6,47.1L147.2,42.7L136.6,38.3L727.3,37.4Z" fill="#176945"/>
<path d="M727.3,562.4L454.1,561.5L433.4,508.8L411.9,456L391.5,407.6L370.2,359.3L349.9,315.3L330.7,275.7L312.6,240.5L303.2,223L293.5,205.4L283.4,187.8L275.5,174.6L267.4,161.4L259,148.2L250.2,135L240.9,121.8L231.2,108.6L224.3,99.8L217.1,91L209.5,82.2L201.3,73.4L192.5,64.7L182.8,55.9L177.5,51.5L171.9,47.1L165.7,42.7L158.8,38.3L727.3,37.4Z" fill="#166747"/>
<path d="M727.3,562.4L459.7,561.5L439,508.8L419.5,460.4L399.2,412L380.1,368.1L360.1,324.1L341.3,284.5L323.8,249.3L314.6,231.7L305.2,214.2L287.9,183.4L277.5,165.8L269.4,152.6L261,139.4L252.2,126.2L243,113L236.6,104.2L226.5,91L219.3,82.2L211.7,73.4L203.7,64.7L195,55.9L190.4,51.5L180.4,42.7L174.8,38.3L727.3,37.4Z" fill="#156548"/>
<path d="M727.3,562.4L465.4,561.5L444.8,508.8L425.3,460.4L405.2,412L386.2,368.1L368.4,328.5L349.8,288.9L332.6,253.7L314.4,218.6L297.6,187.8L287.5,170.2L279.7,157L271.6,143.8L263.2,130.6L248.4,108.6L238.9,95.4L232.2,86.6L225.3,77.8L218,69.1L210.3,60.3L202.1,51.5L193.2,42.7L188.4,38.3L727.3,37.4Z" fill="#14634a"/>
<path d="M727.3,562.4L471.2,561.5L452.4,513.2L433.1,464.8L415,420.8L396.2,376.9L378.7,337.3L360.5,297.7L343.6,262.5L325.9,227.3L309.6,196.6L292.4,165.8L276.6,139.4L268.4,126.2L259.8,113L250.8,99.8L244.5,91L231.3,73.4L224.3,64.7L216.9,55.9L209,47.1L200.6,38.3L727.3,37.4Z" fill="#13624c"/>
<path d="M727.3,562.4L477.2,561.5L458.4,513.2L441,469.2L423,425.2L404.4,381.2L387,341.7L369.1,302.1L352.4,266.9L335,231.7L319.1,201L302.3,170.2L287.1,143.8L270.9,117.4L256.4,95.4L247.2,82.2L240.7,73.4L227.1,55.9L219.8,47.1L212,38.3L727.3,37.4Z" fill="#12604e"/>
<path d="M727.3,562.4L483.2,561.5L464.6,513.2L447.1,469.2L429.2,425.2L410.7,381.2L393.5,341.7L377.7,306.5L361.3,271.3L344.2,236.1L328.6,205.4L312.2,174.6L297.4,148.2L281.7,121.8L267.9,99.8L253.1,77.8L243.6,64.7L237,55.9L230.1,47.1L222.8,38.3L727.3,37.4Z" fill="#125e4f"/>
<path d="M727.3,562.4L489.4,561.5L470.8,513.2L453.4,469.2L435.6,425.2L419.1,385.6L402,346.1L386.4,310.9L370.2,275.7L353.4,240.5L338.1,209.8L322,179L305.2,148.2L289.9,121.8L276.4,99.8L262.1,77.8L253,64.7L246.6,55.9L233.3,38.3L727.3,37.4Z" fill="#115c51"/>
<path d="M727.3,562.4L495.7,561.5L477.2,513.2L459.9,469.2L442.1,425.2L425.7,385.6L408.8,346.1L393.2,310.9L377.2,275.7L360.5,240.5L345.4,209.8L329.6,179L315.4,152.6L300.6,126.2L284.9,99.8L271,77.8L256.1,55.9L243.4,38.3L727.3,37.4Z" fill="#105b52"/>
<path d="M727.3,562.4L502.2,561.5L485.4,517.6L468.2,473.6L450.6,429.6L434.3,390L417.5,350.5L402.1,315.3L386.3,280.1L369.9,244.9L355,214.2L339.5,183.4L323.3,152.6L308.7,126.2L293.4,99.8L279.9,77.8L265.5,55.9L253.3,38.3L727.3,37.4Z" fill="#0f5954"/>
<path d="M727.3,562.4L508.8,561.5L492,517.6L474.9,473.6L457.3,429.6L441.1,390L424.4,350.5L409.2,315.3L393.5,280.1L377.2,244.9L362.5,214.2L347.2,183.4L333.5,157L319.3,130.6L304.5,104.2L291.4,82.2L277.7,60.3L263.1,38.3L727.3,37.4Z" fill="#0e5756"/>
<path d="M727.3,562.4L515.5,561.5L498.8,517.6L481.7,473.6L466,434L449.9,394.4L433.4,354.9L418.3,319.7L402.7,284.5L386.7,249.3L372.2,218.6L357.2,187.8L341.5,157L327.6,130.6L313,104.2L300.3,82.2L286.9,60.3L272.8,38.3L727.3,37.4Z" fill="#0d5558"/>
<path d="M727.3,562.4L522.4,561.5L505.7,517.6L488.7,473.6L473.1,434L457,394.4L440.6,354.9L425.6,319.7L410.2,284.5L396.3,253.7L382,223L367.2,192.2L351.9,161.4L338.2,135L324,108.6L309.1,82.2L296.1,60.3L282.4,38.3L727.3,37.4Z" fill="#0d5359"/>
<path d="M727.3,562.4L529.4,561.5L512.8,517.6L495.9,473.6L480.3,434L464.3,394.4L448,354.9L433.1,319.7L417.7,284.5L404,253.7L389.8,223L375.2,192.2L360,161.4L346.6,135L332.6,108.6L318,82.2L305.3,60.3L292,38.3L727.3,37.4Z" fill="#0c525b"/>
<path d="M727.3,562.4L536.6,561.5L520.1,517.6L503.2,473.6L487.6,434L471.8,394.4L455.5,354.9L440.7,319.7L425.5,284.5L411.8,253.7L397.8,223L383.3,192.2L368.3,161.4L355.1,135L341.3,108.6L327,82.2L314.6,60.3L301.6,38.3L727.3,37.4Z" fill="#0b505c"/>
<path d="M727.3,562.4L544,561.5L527.5,517.6L512.3,478L496.9,438.4L481.1,398.8L465,359.3L450.3,324.1L435.2,288.9L421.7,258.1L407.9,227.3L393.6,196.6L378.9,165.8L365.9,139.4L352.4,113L338.5,86.6L323.9,60.3L311.2,38.3L727.3,37.4Z" fill="#0a4e5e"/>
<path d="M727.3,562.4L551.5,561.5L535,517.6L520,478L504.6,438.4L488.9,398.8L472.8,359.3L458.2,324.1L443.3,288.9L429.8,258.1L416.1,227.3L402,196.6L387.4,165.8L374.6,139.4L361.3,113L347.6,86.6L333.3,60.3L320.9,38.3L727.3,37.4Z" fill="#094c60"/>
<path d="M727.3,562.4L559.2,561.5L542.8,517.6L527.8,478L512.4,438.4L498.6,403.2L482.6,363.7L468.1,328.5L453.3,293.3L440,262.5L424.5,227.3L410.5,196.6L396.1,165.8L383.4,139.4L370.3,113L356.8,86.6L342.8,60.3L330.7,38.3L727.3,37.4Z" fill="#084b62"/>
<path d="M727.3,562.4L567.1,561.5L550.7,517.6L535.8,478L520.5,438.4L506.7,403.2L490.8,363.7L476.4,328.5L461.7,293.3L448.5,262.5L433,227.3L419.2,196.6L404.9,165.8L392.4,139.4L379.5,113L366.2,86.6L352.4,60.3L340.5,38.3L727.3,37.4Z" fill="#074963"/>
<path d="M727.3,562.4L575.2,561.5L558.9,517.6L543.9,478L528.7,438.4L515,403.2L499.2,363.7L484.8,328.5L470.2,293.3L457.1,262.5L441.8,227.3L428,196.6L413.9,165.8L401.5,139.4L388.8,113L375.7,86.6L362.1,60.3L350.4,38.3L727.3,37.4Z" fill="#074763"/>
<path d="M727.3,562.4L583.5,561.5L567.2,517.6L552.3,478L523.4,403.2L507.7,363.7L493.5,328.5L478.9,293.3L465.9,262.5L452.6,231.7L439,201L425.1,170.2L412.9,143.8L398.2,113L385.3,86.6L372,60.3L360.5,38.3L727.3,37.4Z" fill="#084562"/>
<path d="M727.3,562.4L592,561.5L562.5,482.4L533.8,407.6L505.9,337.3L491.5,302.1L476.8,266.9L463.6,236.1L450.2,205.4L436.4,174.6L422.4,143.8L410,117.4L397.2,91L384.2,64.7L370.7,38.3L727.3,37.4Z" fill="#094260"/>
<path d="M727.3,562.4L600.7,561.5L571.3,482.4L542.7,407.6L514.9,337.3L500.6,302.1L485.9,266.9L472.9,236.1L459.6,205.4L446,174.6L432,143.8L419.7,117.4L407.2,91L394.3,64.7L381,38.3L727.3,37.4Z" fill="#0a405e"/>
<path d="M727.3,562.4L609.6,561.5L580.3,482.4L551.8,407.6L524.1,337.3L509.9,302.1L495.4,266.9L469.2,205.4L455.7,174.6L441.8,143.8L429.7,117.4L417.3,91L404.6,64.7L391.5,38.3L727.3,37.4Z" fill="#0b3e5d"/>
<path d="M727.3,562.4L618.8,561.5L589.6,482.4L561.2,407.6L533.6,337.3L506.8,271.3L480.9,209.8L467.5,179L453.9,148.2L439.9,117.4L427.6,91L415,64.7L402.1,38.3L727.3,37.4Z" fill="#0c3c5b"/>
<path d="M727.3,562.4L628.2,561.5L599.1,482.4L570.8,407.6L543.3,337.3L516.6,271.3L490.9,209.8L477.6,179L464.1,148.2L450.3,117.4L438.1,91L425.7,64.7L413,38.3L727.3,37.4Z" fill="#0d395a"/>
<path d="M727.3,562.4L637.8,561.5L608.8,482.4L580.6,407.6L553.2,337.3L526.7,271.3L501.1,209.8L488,179L474.6,148.2L460.9,117.4L448.8,91L436.6,64.7L424,38.3L727.3,37.4Z" fill="#0e3758"/>
<path d="M727.3,562.4L647.7,561.5L618.8,482.4L590.7,407.6L563.4,337.3L537.1,271.3L511.6,209.8L485.3,148.2L459.8,91L447.7,64.7L435.3,38.3L727.3,37.4Z" fill="#0e3556"/>
<path d="M727.3,562.4L657.9,561.5L629.1,482.4L601,407.6L573.9,337.3L547.7,271.3L522.4,209.8L496.3,148.2L471,91L446.8,38.3L727.3,37.4Z" fill="#0f3355"/>
<path d="M727.3,562.4L668.4,561.5L641.2,486.8L613.4,412L586.4,341.7L560.3,275.7L535.3,214.2L509.4,152.6L484.4,95.4L470.6,64.7L458.5,38.3L727.3,37.4Z" fill="#103153"/>
<path d="M727.3,562.4L679.2,561.5L652.1,486.8L624.3,412L597.4,341.7L571.5,275.7L546.6,214.2L520.9,152.6L496.1,95.4L470.5,38.3L727.3,37.4Z" fill="#112e52"/>
<path d="M727.3,562.4L690.3,561.5L663.2,486.8L635.5,412L608.8,341.7L583,275.7L558.2,214.2L532.7,152.6L508.1,95.4L482.7,38.3L727.3,37.4Z" fill="#122c50"/>
<path d="M727.3,562.4L701.7,561.5L674.7,486.8L647.1,412L620.4,341.7L594.8,275.7L570.1,214.2L544.8,152.6L520.4,95.4L495.3,38.3L727.3,37.4Z" fill="#132a4e"/>
<path d="M727.3,562.4L713.4,561.5L686.5,486.8L659,412L632.4,341.7L606.9,275.7L582.4,214.2L557.2,152.6L533.1,95.4L508.1,38.3L727.3,37.4Z" fill="#14284d"/>
<path d="M727.3,562.4L725.5,561.5L698.7,486.8L671.2,412L644.8,341.7L619.3,275.7L595,214.2L570,152.6L546,95.4L521.3,38.3L727.3,37.4Z" fill="#14254b"/>
<path d="M727.3,562.4L738,561.5L711.2,486.8L685.5,416.4L659.2,346.1L633.9,280.1L607.9,214.2L583.1,152.6L559.3,95.4L534.8,38.3L727.3,37.4Z" fill="#15234a"/>
<path d="M727.3,562.4L750.9,561.5L724.2,486.8L698.5,416.4L672.3,346.1L647.1,280.1L621.3,214.2L596.6,152.6L573,95.4L548.7,38.3L727.3,37.4Z" fill="#162148"/>
<path d="M727.3,562.4L764.1,561.5L737.5,486.8L711.9,416.4L685.8,346.1L660.7,280.1L635,214.2L610.5,152.6L587,95.4L563,38.3L727.3,37.4Z" fill="#171f46"/>
<path d="M727.3,562.4L777.8,561.5L751.3,486.8L725.8,416.4L699.7,346.1L674.7,280.1L649.2,214.2L624.8,152.6L601.5,95.4L577.6,38.3L727.3,37.4Z" fill="#181c45"/>
<path d="M727.3,562.4L792,561.5L765.5,486.8L740,416.4L714.1,346.1L689.2,280.1L663.8,214.2L639.5,152.6L616.4,95.4L592.7,38.3L727.3,37.4Z" fill="#191a43"/>
<path d="M727.3,562.4L801.4,561.5L801.4,548.3L800.4,543.9L769.1,456L737.1,368.1L704.2,280.1L672,196.6L640.7,117.4L624.6,77.8L608.3,38.3L727.3,37.4Z" fill="#1a1842"/>
<path d="M727.3,562.4L801.4,561.5L801.4,504.4L800,500L776.4,434L754,372.5L731.2,310.9L709.6,253.7L687.6,196.6L666.9,143.8L645.8,91L624.3,38.3L727.3,37.4Z" fill="#1a1640"/>
<path d="M727.3,562.4L801.4,561.5L801.4,460.4L800.1,456L792.2,434L765,359.3L742.2,297.7L720.6,240.5L700.3,187.8L679.7,135L660.4,86.6L640.8,38.3L727.3,37.4Z" fill="#1b143e"/>
<path d="M727.3,562.4L801.4,561.5L801.4,416.4L800.6,412L763.6,310.9L745.5,262.5L727.1,214.2L708.5,165.8L691.3,121.8L673.8,77.8L657.9,38.3L727.3,37.4Z" fill="#1c113d"/>
<path d="M727.3,562.4L801.4,561.5L801.4,368.1L793.6,346.1L772.5,288.9L739.3,201L707,117.4L675.5,38.3L727.3,37.4Z" fill="#1d0f3b"/>
<path d="M727.3,562.4L801.4,561.5L801.4,319.7L775.4,249.3L747.1,174.6L719.8,104.2L693.7,38.3L727.3,37.4Z" fill="#1e0d3a"/>
<path d="M727.3,562.4L801.4,561.5L801.4,271.3L800.3,266.9L763.9,170.2L738.5,104.2L712.5,38.3L727.3,37.4Z" fill="#1f0b38"/>
</g>
<g><text transform="translate(205.90,88.90) scale(1.0037,1.0000)" x="-1.15 14.16 21.9" font-size="30.3" fill="#fff">0.5</text>
<text transform="translate(367.90,88.60) scale(0.9952,1.0000)" x="-1.15 14.16 21.9" font-size="30.3" fill="#fff">0.4</text>
<text transform="translate(559.40,87.30) scale(1.0451,1.0000)" x="0.35" font-size="29.0" font-style="italic" fill="#fff">x</text>
<text transform="translate(576.20,89.70) scale(1.1271,1.0000)" x="-0.66" font-size="21.4" font-style="italic" fill="#fff">c</text>
<text transform="translate(596.90,89.60) scale(1.4895,1.0000)" x="-1.44" font-size="29.0" fill="#fff">=</text>
<text transform="translate(627.10,87.40) scale(1.0065,1.0000)" x="-1.15 14.16 21.9" font-size="30.3" fill="#fff">0.3</text>
<text transform="translate(120.70,205.80) scale(0.9904,1.0000)" x="-1.15 14.16 21.9" font-size="30.3" fill="#fff">0.6</text>
<text transform="translate(120.70,327.60) scale(1.0034,1.0000)" x="-1.15 14.16 21.9" font-size="30.3" fill="#fff">0.7</text>
<text transform="translate(120.70,421.60) scale(0.9973,1.0000)" x="-1.15 14.16 21.9" font-size="30.3" fill="#fff">0.8</text>
<text transform="translate(120.70,494.00) scale(0.9998,1.0000)" x="-1.15 14.16 21.9" font-size="30.3" fill="#fff">0.9</text></g>
<g clip-path="url(#ca)" fill="none" stroke-width="2.54" stroke-linejoin="round">
<path d="M795.6,571.8L782.1,533.6L768.6,495.4L754.8,457.2L741.7,420.8L728.3,384.5L714.8,348.1L701.9,313.5L688.8,279.0L675.5,244.4L662.8,211.7L650.0,179.0L637.7,148.0L625.2,117.1L612.6,86.2L600.6,57.1L588.4,28.0" stroke="#000" stroke-width="2.68"/>
<path d="M578.9,571.8L562.8,528.1L547.1,486.3L531.8,446.3L516.2,406.3L500.9,368.1L486.2,331.7L471.0,295.4L456.4,260.8L442.1,228.1L427.5,195.3L413.3,164.4L399.6,135.3L385.4,106.2L371.7,78.9L358.5,53.5L351.8,40.7L344.9,28.0" stroke="#000" stroke-width="2.68"/>
<path d="M447.2,571.8L433.6,537.0L421.6,506.8L408.3,474.3L396.5,446.0L383.6,415.8L372.1,389.5L359.5,361.5L348.3,337.3L336.0,311.5L325.1,289.4L313.1,265.8L302.4,245.7L296.6,234.9L290.7,224.4L280.4,206.3L274.6,196.6L269.0,187.2L263.3,178.2L258.8,171.1L253.3,162.6L247.7,154.3L242.2,146.4L237.9,140.2L232.4,132.8L228.1,127.1L222.7,120.2L218.5,114.9L213.2,108.6L207.9,102.5L202.6,96.7L198.4,92.3L193.2,87.1L189.1,83.1L184.0,78.4L179.9,74.9L174.8,70.7L169.7,66.9L164.6,63.3L160.6,60.6L155.6,57.6L151.6,55.4L146.6,52.9L142.7,51.1L137.7,49.1L133.7,47.7L128.8,46.3L124.9,45.3L120.0,44.4L116.0,43.9L111.1,43.5L107.2,43.4" stroke="#000" stroke-width="2.68"/>
<path d="M357.4,571.8L347.6,548.3L338.9,527.8L329.3,505.8L320.7,486.7L311.3,466.3L303.0,448.5L293.8,429.6L285.7,413.2L276.7,395.8L268.7,380.8L259.9,364.9L252.1,351.2L243.6,336.8L236.0,324.6L227.6,311.7L220.1,300.8L211.9,289.4L204.7,279.9L197.4,271.0L190.3,262.8L186.4,258.5L182.4,254.4L178.5,250.5L175.4,247.5L171.6,244.0L168.5,241.3L164.7,238.1L161.6,235.7L157.8,232.9L154.0,230.3L150.3,227.8L147.2,226.1L143.5,224.0L140.5,222.5L136.8,220.8L133.8,219.6L130.1,218.2L127.1,217.3L123.4,216.3L120.5,215.7L116.8,215.1L113.8,214.7L110.1,214.5L107.2,214.4" stroke="#000" stroke-width="2.68"/>
<path d="M291.1,571.8L284.0,556.3L277.7,542.8L270.8,528.4L264.6,515.8L257.8,502.3L251.8,490.6L245.1,478.2L239.2,467.4L232.7,455.9L226.9,446.0L220.5,435.6L214.8,426.6L208.5,417.1L202.9,409.1L196.8,400.6L191.3,393.4L185.3,385.9L179.9,379.7L174.6,373.8L169.3,368.4L163.5,362.9L158.3,358.3L153.1,354.2L148.0,350.6L145.1,348.7L142.3,347.0L137.2,344.2L132.2,341.9L127.2,340.0L122.2,338.5L119.4,337.8L117.2,337.4L114.4,337.0L112.2,336.8L109.4,336.6L107.2,336.5" stroke="#000" stroke-width="2.68"/>
<path d="M238.3,571.8L229.0,554.1L224.1,545.3L219.8,537.6L215.1,529.4L210.9,522.2L206.2,514.6L202.0,508.0L197.4,501.0L193.3,495.0L188.8,488.6L184.8,483.1L180.4,477.4L176.4,472.4L172.5,467.8L168.5,463.3L164.2,458.7L160.4,454.9L156.6,451.3L152.7,447.9L148.5,444.5L144.8,441.7L141.1,439.2L137.3,436.9L133.2,434.7L129.5,433.0L125.9,431.5L122.2,430.3L118.1,429.3L114.5,428.7L110.8,428.3L107.2,428.1" stroke="#000" stroke-width="2.68"/>
<path d="M192.4,571.8L186.5,562.9L180.8,554.6L175.1,546.8L169.5,539.7L163.9,533.1L158.4,527.1L153.0,521.7L147.9,517.1L145.0,514.8L142.5,512.9L140.0,511.1L137.5,509.4L134.7,507.7L132.3,506.3L129.8,505.0L127.3,503.8L124.6,502.7L122.1,501.8L119.7,501.1L117.2,500.5L114.5,500.0L112.1,499.7L109.6,499.5L107.2,499.4" stroke="#000" stroke-width="2.68"/>
<path d="M107.2,-640.6L112.0,-640.5L116.7,-640.3L121.5,-639.9L124.6,-639.5L127.8,-639.0L132.6,-638.2L137.3,-637.3L142.1,-636.1L146.8,-634.8L151.6,-633.3L156.3,-631.7L161.1,-629.9L165.9,-627.9L170.6,-625.8L178.5,-621.9L183.3,-619.3L188.0,-616.5L192.8,-613.6L197.6,-610.5L202.3,-607.3L207.1,-603.9L215.0,-597.8L219.8,-593.9L224.5,-589.9L232.4,-582.8L237.2,-578.4L241.9,-573.7L246.7,-568.9L251.5,-564.0L256.2,-558.8L261.0,-553.5L268.9,-544.3L273.7,-538.6L278.4,-532.6L283.2,-526.6L287.9,-520.3L297.4,-507.3L306.9,-493.7L314.9,-481.8L324.4,-466.9L333.9,-451.3L341.8,-437.9L351.3,-421.1L359.3,-406.6L368.8,-388.6L378.3,-370.0L386.2,-353.9L395.7,-334.0L405.2,-313.5L413.2,-295.8L422.7,-274.1L432.2,-251.6L441.7,-228.5L451.2,-204.8L460.7,-180.3L468.6,-159.5L476.6,-138.1L486.1,-111.9L495.6,-85.0L503.5,-62.1L513.0,-34.0L522.5,-5.3L532.1,24.2L540.0,49.2L547.9,74.7L557.4,105.9L566.9,137.8L576.4,170.3L584.4,197.9L593.9,231.7L603.4,266.1L612.9,301.2L620.8,331.0L630.3,367.3L639.9,404.3L647.8,435.6L657.3,473.8L665.2,506.2L674.7,545.6L684.2,585.7" stroke="#fff"/>
<path d="M107.2,-213.1L113.5,-212.9L119.9,-212.3L126.2,-211.3L132.6,-209.9L138.9,-208.2L145.2,-206.0L151.6,-203.4L157.9,-200.5L164.3,-197.1L170.6,-193.4L177.0,-189.2L183.3,-184.7L189.6,-179.7L196.0,-174.4L202.3,-168.7L208.7,-162.6L215.0,-156.0L221.3,-149.1L227.7,-141.8L234.0,-134.1L240.4,-126.0L246.7,-117.5L253.0,-108.6L259.4,-99.4L265.7,-89.7L270.5,-82.2L276.8,-71.8L283.2,-61.1L289.5,-49.9L295.8,-38.3L302.2,-26.4L308.5,-14.1L314.9,-1.3L321.2,11.8L327.6,25.3L333.9,39.3L340.2,53.6L346.6,68.3L352.9,83.4L359.3,98.9L365.6,114.8L371.9,131.1L378.3,147.7L384.6,164.8L391.0,182.3L397.3,200.2L403.6,218.4L410.0,237.1L416.3,256.1L422.7,275.6L429.0,295.4L435.4,315.7L441.7,336.3L448.0,357.3L454.4,378.8L460.7,400.6L467.1,422.8L473.4,445.4L484.5,485.9L490.8,509.6L497.2,533.7L509.9,583.1" stroke="#fff"/>
<path d="M107.2,43.4L112.0,43.5L116.7,44.0L121.5,44.6L126.2,45.6L129.4,46.4L134.1,47.9L138.9,49.6L143.7,51.6L148.4,53.8L153.2,56.4L157.9,59.2L162.7,62.3L165.9,64.5L170.6,68.1L175.4,71.9L180.1,76.0L184.9,80.4L189.6,85.1L194.4,90.1L199.1,95.3L203.9,100.8L207.1,104.6L211.8,110.6L216.6,116.8L221.3,123.4L226.1,130.2L230.9,137.2L235.6,144.6L240.4,152.2L245.1,160.2L249.9,168.3L254.6,176.8L259.4,185.6L264.1,194.6L268.9,203.9L273.7,213.5L278.4,223.3L283.2,233.5L287.9,243.9L292.7,254.6L300.6,273.0L305.4,284.4L310.1,296.1L314.9,308.1L319.6,320.4L329.1,345.7L337.1,367.7L346.6,395.1L356.1,423.6L365.6,453.2L375.1,484.0L384.6,515.8L394.1,548.8L403.6,582.8" stroke="#fff"/>
<path d="M107.2,214.4L112.0,214.6L115.1,214.9L118.3,215.3L121.5,215.9L124.6,216.6L127.8,217.5L131.0,218.6L134.1,219.7L137.3,221.1L142.1,223.4L145.2,225.1L148.4,226.9L151.6,228.9L154.8,231.1L157.9,233.4L162.7,237.1L165.9,239.7L169.0,242.6L172.2,245.5L177.0,250.2L181.7,255.3L184.9,258.8L191.2,266.4L194.4,270.4L199.1,276.7L205.5,285.6L211.8,295.0L218.2,305.1L224.5,315.8L229.3,324.2L232.4,329.9L235.6,335.8L240.4,345.0L246.7,357.7L253.0,371.1L259.4,385.0L265.7,399.5L273.7,418.5L280.0,434.3L287.9,455.0L295.8,476.5L302.2,494.4L310.1,517.7L316.5,536.9L324.4,561.8L330.7,582.4" stroke="#fff"/>
<path d="M107.2,336.5L110.4,336.6L113.5,336.9L118.3,337.6L123.1,338.7L127.8,340.2L131.0,341.4L134.1,342.8L138.9,345.2L143.7,348.0L148.4,351.1L153.2,354.7L157.9,358.7L161.1,361.5L164.3,364.5L169.0,369.4L172.2,372.8L175.4,376.5L180.1,382.2L184.9,388.4L188.0,392.7L191.2,397.2L197.6,406.7L202.3,414.3L208.7,425.0L213.4,433.5L218.2,442.4L224.5,454.8L229.3,464.6L234.0,474.8L238.8,485.3L243.5,496.3L248.3,507.6L254.6,523.3L259.4,535.6L265.7,552.5L272.1,570.1L276.8,583.8" stroke="#fff"/>
<path d="M107.2,428.1L112.0,428.4L115.1,428.8L118.3,429.4L123.1,430.6L127.8,432.3L131.0,433.7L134.1,435.3L138.9,438.0L142.1,440.1L145.2,442.4L148.4,444.8L153.2,448.9L156.3,451.9L161.1,456.7L164.3,460.1L169.0,465.7L173.8,471.7L177.0,475.9L180.1,480.4L184.9,487.4L188.0,492.3L192.8,500.1L197.6,508.3L200.7,514.1L203.9,520.0L208.7,529.2L213.4,538.9L216.6,545.7L221.3,556.1L224.5,563.3L229.3,574.5L232.4,582.2" stroke="#fff"/>
<path d="M107.2,499.4L110.4,499.5L113.5,499.8L115.1,500.1L118.3,500.8L121.5,501.6L124.6,502.8L126.2,503.4L129.4,504.8L134.1,507.4L137.3,509.4L140.5,511.6L143.7,514.1L146.8,516.8L151.6,521.2L156.3,526.1L159.5,529.6L162.7,533.4L167.4,539.5L172.2,546.1L177.0,553.2L180.1,558.2L183.3,563.4L188.0,571.6L191.2,577.4L194.4,583.4" stroke="#fff"/>
</g>
<path d="M261.47,556.40v-13.54M261.47,43.40v13.54M415.75,556.40v-13.54M415.75,43.40v13.54M570.02,556.40v-13.54M570.02,43.40v13.54M107.20,453.80h13.54M724.30,453.80h-13.54M107.20,351.20h13.54M724.30,351.20h-13.54M107.20,248.60h13.54M724.30,248.60h-13.54M107.20,146.00h13.54M724.30,146.00h-13.54" stroke="#808080" stroke-width="0.63" fill="none"/>
<rect x="107.20" y="43.40" width="617.10" height="513.00" fill="none" stroke="#000" stroke-width="1.27"/>
<rect x="781.90" y="43.40" width="46.30" height="514.10" fill="url(#cb)"/>
<path d="M781.90,453.80h13.54M827.10,453.80h-13.54M781.90,317.00h13.54M827.10,317.00h-13.54M781.90,180.20h13.54M827.10,180.20h-13.54" stroke="#808080" stroke-width="0.63" fill="none"/>
<rect x="781.90" y="43.40" width="45.20" height="513.00" fill="none" stroke="#000" stroke-width="1.27"/>
<path d="M1220.94,556.35v-13.54M1220.94,43.45v13.54M1097.60,453.77h13.54M1714.30,453.77h-13.54M1344.28,556.35v-13.54M1344.28,43.45v13.54M1097.60,351.19h13.54M1714.30,351.19h-13.54M1467.62,556.35v-13.54M1467.62,43.45v13.54M1097.60,248.61h13.54M1714.30,248.61h-13.54M1590.96,556.35v-13.54M1590.96,43.45v13.54M1097.60,146.03h13.54M1714.30,146.03h-13.54" stroke="#808080" stroke-width="0.63" fill="none"/>
<defs><clipPath id="cbp"><rect x="1097.60" y="43.45" width="616.70" height="512.90"/></clipPath></defs>
<g clip-path="url(#cbp)" fill="none" stroke-width="2.54">
<path d="M1097.60,556.35L1714.30,43.45" stroke="#0f4c75" stroke-dasharray="9.52 6.34" stroke-dashoffset="0.50"/>
<path d="M1097.6,556.4L1105.3,548.3L1113.0,540.4L1120.7,532.5L1128.4,524.7L1136.1,516.9L1143.9,509.2L1151.6,501.5L1159.3,493.9L1167.0,486.4L1174.7,478.9L1182.4,471.5L1190.1,464.1L1197.8,456.7L1205.5,449.5L1213.2,442.2L1220.9,435.0L1228.6,427.9L1236.4,420.8L1244.1,413.8L1251.8,406.8L1259.5,399.9L1267.2,393.0L1274.9,386.2L1282.6,379.4L1290.3,372.6L1298.0,365.9L1305.7,359.3L1313.4,352.7L1321.2,346.1L1328.9,339.6L1336.6,333.1L1344.3,326.7L1352.0,320.3L1359.7,313.9L1367.4,307.6L1375.1,301.3L1382.8,295.0L1390.5,288.8L1398.2,282.6L1405.9,276.5L1413.7,270.4L1421.4,264.3L1429.1,258.3L1436.8,252.3L1444.5,246.3L1452.2,240.3L1459.9,234.4L1467.6,228.5L1475.3,222.6L1483.0,216.8L1490.7,211.0L1498.5,205.2L1506.2,199.4L1513.9,193.7L1521.6,187.9L1529.3,182.2L1537.0,176.5L1544.7,170.8L1552.4,165.2L1560.1,159.5L1567.8,153.9L1575.5,148.2L1583.3,142.6L1591.0,136.9L1598.7,131.3L1606.4,125.7L1614.1,120.0L1621.8,114.4L1629.5,108.7L1637.2,103.0L1644.9,97.3L1652.6,91.5L1660.3,85.7L1668.0,79.9L1675.8,74.0L1683.5,68.1L1691.2,62.1L1698.9,56.0L1706.6,49.8L1714.3,43.5" stroke="#e3000f"/>
</g>
<g fill="none" stroke="#000" stroke-width="1.27" stroke-dasharray="9.52 9.52">
<path d="M1344.28,556.35V326.67"/>
<path d="M1344.28,326.67H1431.00"/>
<path d="M1344.28,351.44H1431.00"/>
</g>
<circle cx="1344.28" cy="326.67" r="4.6" fill="#e3000f" stroke="#000" stroke-width="1.27"/>
<circle cx="1344.28" cy="351.39" r="4.6" fill="#0f4c75" stroke="#000" stroke-width="1.27"/>
<rect x="1097.60" y="43.45" width="616.70" height="512.90" fill="none" stroke="#000" stroke-width="1.27"/>
<rect x="1116.6" y="59.3" width="178.05" height="90.8" fill="#fff" stroke="#000" stroke-width="1.27"/>
<path d="M1127.1,85.1H1181.6" stroke="#0f4c75" stroke-width="2.54" stroke-dasharray="9.52 6.34" fill="none"/>
<path d="M1127.1,124.4H1181.6" stroke="#e3000f" stroke-width="2.54" fill="none"/>
<g><text transform="translate(-1.00,24.53) scale(1.0048,1.1313)" x="-1.36" font-size="31.0">(</text>
<text transform="translate(10.10,24.10) scale(1.2168,1.0000)" x="-1.09" font-size="31.0">a</text>
<text transform="translate(26.50,24.53) scale(1.0048,1.1313)" x="-1" font-size="31.0">)</text>
<text transform="translate(971.00,24.53) scale(0.9797,1.1313)" x="-1.36" font-size="31.0">(</text>
<text transform="translate(983.70,24.10) scale(0.9777,1.0000)" x="0" font-size="31.0">b</text>
<text transform="translate(1000.10,24.53) scale(1.0299,1.1313)" x="-1" font-size="31.0">)</text>
<text transform="translate(82.50,566.80) scale(1.0079,1.0300)" x="-2.72" font-size="31.0">1</text>
<text transform="translate(57.90,464.20) scale(1.0591,1.0300)" x="-2.72 12.94 20.86" font-size="31.0">1.2</text>
<text transform="translate(57.90,361.60) scale(1.0341,1.0300)" x="-2.72 12.94 20.86" font-size="31.0">1.4</text>
<text transform="translate(57.90,259.00) scale(1.0356,1.0300)" x="-2.72 12.94 20.86" font-size="31.0">1.6</text>
<text transform="translate(57.90,156.40) scale(1.0431,1.0300)" x="-2.72 12.94 20.86" font-size="31.0">1.8</text>
<text transform="translate(81.00,53.80) scale(1.0944,1.0300)" x="-1.36" font-size="31.0">2</text>
<text transform="translate(100.05,588.30) scale(1.0884,1.0300)" x="-1.18" font-size="31.0">0</text>
<text transform="translate(241.77,588.30) scale(1.0706,1.0300)" x="-1.18 14.49 22.41" font-size="31.0">0.2</text>
<text transform="translate(396.05,588.30) scale(1.0488,1.0300)" x="-1.18 14.49 22.41" font-size="31.0">0.4</text>
<text transform="translate(550.32,588.30) scale(1.0478,1.0300)" x="-1.18 14.49 22.41" font-size="31.0">0.6</text>
<text transform="translate(704.60,588.30) scale(1.0551,1.0300)" x="-1.18 14.49 22.41" font-size="31.0">0.8</text>
<text transform="translate(239.07,631.70) scale(1.1140,1.0000)" x="-0.71 14.39 29.73 40.36 64.43" font-size="31.0">norm.</text>
<text transform="translate(334.30,631.70) scale(1.1100,1.0000)" x="-0.65 7.75 23.53 39.25" font-size="31.0">inh.</text>
<text transform="translate(401.30,631.70) scale(1.0905,1.0000)" x="-0.62 7.4 15.99 31.29 43.82 65.14 73.73 90.81 101" font-size="31.0">linewidth</text>
<text transform="translate(540.10,631.70) scale(1.1252,1.0000)" x="-1.38" font-size="31.0" font-style="italic">ϑ</text>
<text transform="translate(559.30,636.30) scale(1.1395,1.0000)" x="-1.54 11.25" font-size="23.0">SD</text>
<text transform="translate(29.70,486.10) rotate(-90) scale(1.1140,1.0000)" x="-0.71 14.39 29.73 40.36 64.43" font-size="31.0">norm.</text>
<text transform="translate(29.70,390.90) rotate(-90) scale(1.0957,1.0000)" x="-0.3 15.01 30.05 54.35" font-size="31.0">hom.</text>
<text transform="translate(29.70,308.00) rotate(-90) scale(1.0905,1.0000)" x="-0.62 7.4 15.99 31.29 43.82 65.14 73.73 90.81 101" font-size="31.0">linewidth</text>
<text transform="translate(29.70,169.20) rotate(-90) scale(1.1252,1.0000)" x="-1.38" font-size="31.0" font-style="italic">ϑ</text>
<text transform="translate(34.30,149.40) rotate(-90) scale(1.1935,1.0000)" x="-0.66 12.13" font-size="23.0">PD</text>
<text transform="translate(840.80,53.90) scale(1.0447,1.0300)" x="-2.72 12.78 28.28" font-size="31.0">100</text>
<text transform="translate(839.20,190.70) scale(1.0510,1.0300)" x="-1.18 14.32" font-size="31.0">80</text>
<text transform="translate(839.20,327.50) scale(1.0566,1.0300)" x="-1.33 14.17" font-size="31.0">60</text>
<text transform="translate(838.60,464.30) scale(1.0509,1.0300)" x="-0.61 14.89" font-size="31.0">40</text>
<text transform="translate(931.50,404.07) rotate(-90) scale(1.0767,1.0000)" x="0 15.18 23.25 34.77 43.46 59.05 67.14 75.24 84.95 94.05" font-size="31.0">visibility</text>
<text transform="translate(931.50,273.50) rotate(-90) scale(1.1134,1.0900)" x="-1.62" font-size="31.0" font-style="italic">V</text>
<text transform="translate(934.04,235.70) rotate(-90) scale(0.6867,1.2433)" x="-2.3" font-size="31.0">[</text>
<text transform="translate(932.60,228.60) rotate(-90) scale(0.9745,1.2271)" x="-1.06" font-size="31.0">%</text>
<text transform="translate(934.04,203.65) rotate(-90) scale(0.6882,1.2433)" x="-1.12" font-size="31.0">]</text>
<text transform="translate(1009.90,404.07) rotate(-90) scale(1.0767,1.0000)" x="0 15.18 23.25 34.77 43.46 59.05 67.14 75.24 84.95 94.05" font-size="31.0">visibility</text>
<text transform="translate(1009.90,273.50) rotate(-90) scale(1.1134,1.0900)" x="-1.62" font-size="31.0" font-style="italic">V</text>
<text transform="translate(1012.44,235.70) rotate(-90) scale(0.6867,1.2433)" x="-2.3" font-size="31.0">[</text>
<text transform="translate(1011.00,228.60) rotate(-90) scale(0.9745,1.2271)" x="-1.06" font-size="31.0">%</text>
<text transform="translate(1012.44,203.65) rotate(-90) scale(0.6882,1.2433)" x="-1.12" font-size="31.0">]</text>
<text transform="translate(1071.30,566.80) scale(1.0884,1.0300)" x="-1.18" font-size="31.0">0</text>
<text transform="translate(1055.50,464.22) scale(1.0577,1.0300)" x="-1.36 14.14" font-size="31.0">20</text>
<text transform="translate(1054.90,361.64) scale(1.0509,1.0300)" x="-0.61 14.89" font-size="31.0">40</text>
<text transform="translate(1055.50,259.06) scale(1.0566,1.0300)" x="-1.33 14.17" font-size="31.0">60</text>
<text transform="translate(1055.50,156.48) scale(1.0510,1.0300)" x="-1.18 14.32" font-size="31.0">80</text>
<text transform="translate(1040.90,53.90) scale(1.0494,1.0300)" x="-2.72 12.78 28.28" font-size="31.0">100</text>
<text transform="translate(1090.55,588.40) scale(1.0884,1.0300)" x="-1.18" font-size="31.0">0</text>
<text transform="translate(1201.32,588.40) scale(1.0706,1.0300)" x="-1.18 14.49 22.41" font-size="31.0">0.2</text>
<text transform="translate(1324.64,588.40) scale(1.0488,1.0300)" x="-1.18 14.49 22.41" font-size="31.0">0.4</text>
<text transform="translate(1447.96,588.40) scale(1.0478,1.0300)" x="-1.18 14.49 22.41" font-size="31.0">0.6</text>
<text transform="translate(1571.28,588.40) scale(1.0551,1.0300)" x="-1.18 14.49 22.41" font-size="31.0">0.8</text>
<text transform="translate(1708.90,588.40) scale(1.0079,1.0300)" x="-2.72" font-size="31.0">1</text>
<text transform="translate(1235.47,631.70) scale(1.1163,1.0000)" x="-0.71 14.39 29.73 40.36 64.43" font-size="31.0">norm.</text>
<text transform="translate(1330.90,631.70) scale(1.0653,1.0000)" x="-1.18 11.99 27.68 43.42 57.57 68.28 82.28 98.01 111.23" font-size="31.0">coherence</text>
<text transform="translate(1474.77,631.70) scale(1.1362,1.0000)" x="-0.3 9.14 17.14 40.42" font-size="31.0">time</text>
<text transform="translate(1547.20,631.70) scale(1.1143,1.0000)" x="0.38" font-size="31.0" font-style="italic">x</text>
<text transform="translate(1565.50,636.60) scale(1.1954,1.0000)" x="-0.65" font-size="21.0" font-style="italic">c</text>
<text transform="translate(1191.90,94.10) scale(1.1062,1.0000)" x="-0.71 14.79" font-size="31.0">no</text>
<text transform="translate(1236.20,94.10) scale(1.0767,1.0900)" x="-2.07 15.17" font-size="31.0">SD</text>
<text transform="translate(1190.00,133.10) scale(1.1062,1.0000)" x="-0.71 14.79" font-size="31.0">no</text>
<text transform="translate(1233.90,133.10) scale(1.1522,1.0900)" x="-0.89 16.35" font-size="31.0">PD</text>
<text transform="translate(1443.00,347.86) scale(0.8380,1.0788)" x="-2.54" font-size="28.0">}</text>
<text transform="translate(1461.90,328.40) scale(1.3065,1.0500)" x="-1.09" font-size="28.6">Δ</text>
<text transform="translate(1487.00,328.40) scale(1.1000,0.9800)" x="-1.49" font-size="28.6" font-style="italic">V</text>
<text transform="translate(1503.40,331.50) scale(1.2233,1.0000)" x="-0.41 14.87 23.6" font-size="19.5">max</text>
<text transform="translate(1555.90,331.10) scale(1.5103,1.0000)" x="-1.42" font-size="28.6">=</text>
<text transform="translate(1585.90,328.50) scale(1.0461,1.0300)" x="-0.56 13.9 21.2" font-size="28.6">4.8</text>
<text transform="translate(1628.90,329.64) scale(1.0014,1.2115)" x="-0.98" font-size="28.6">%</text>
<text transform="translate(1461.50,366.30) scale(1.2085,1.0000)" x="-1.09 12.67" font-size="31.0">at</text>
<text transform="translate(1500.10,366.30) scale(1.1358,1.0000)" x="0.38" font-size="31.0" font-style="italic">x</text>
<text transform="translate(1518.70,371.60) scale(1.1599,1.0000)" x="-0.65" font-size="21.0" font-style="italic">c</text>
<text transform="translate(1542.00,369.20) scale(1.5286,1.0000)" x="-1.54" font-size="31.0">=</text>
<text transform="translate(1576.90,366.40) scale(1.0448,1.0300)" x="-1.18 14.49 22.41" font-size="31.0">0.4</text></g>
</svg></body></html>
